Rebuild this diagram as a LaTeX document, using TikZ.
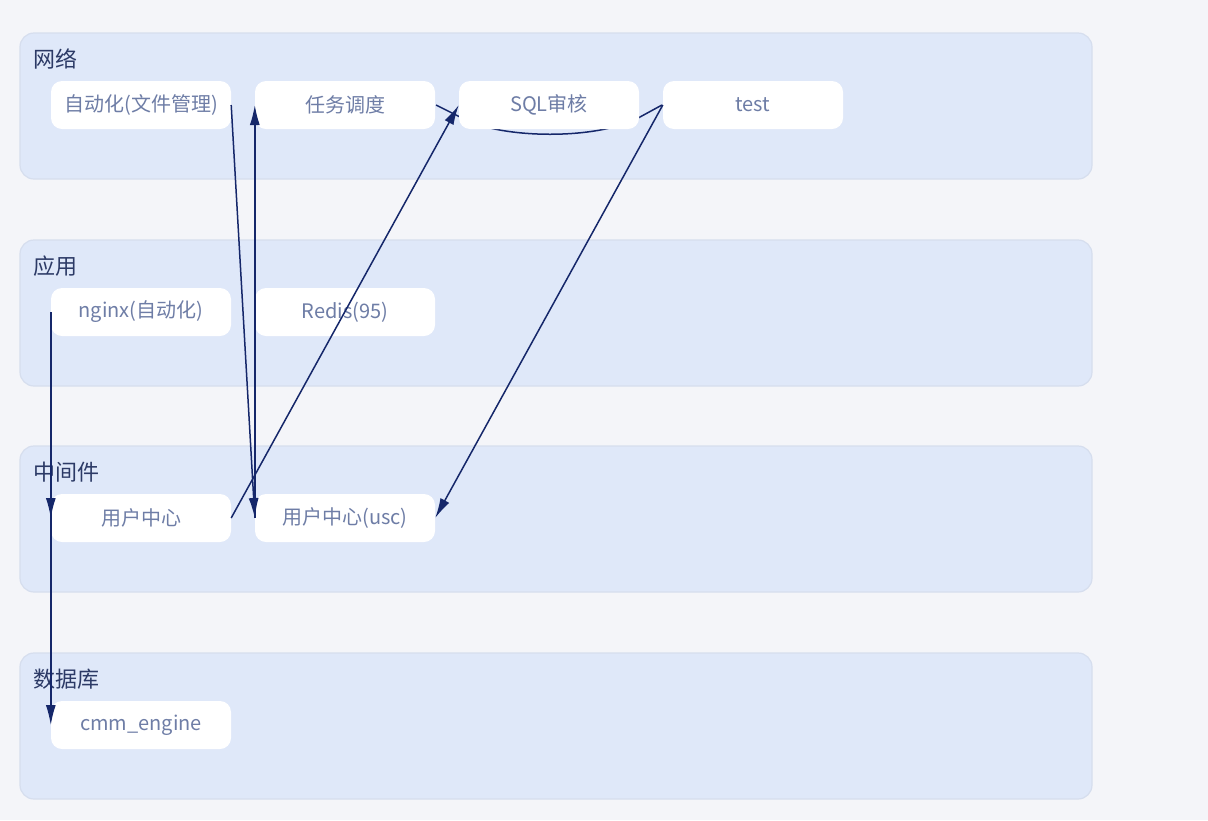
\documentclass[tikz,border=0pt]{standalone}
\usepackage{fontspec}
\newfontfamily\cjk{Noto Sans CJK SC}
\usetikzlibrary{arrows.meta}
\definecolor{bg}{HTML}{F4F5F9}
\definecolor{grp}{HTML}{DFE8F9}
\definecolor{grpb}{HTML}{D6DEEE}
\definecolor{ntext}{HTML}{6E7DA6}
\definecolor{gtext}{HTML}{2C3A66}
\definecolor{edge}{HTML}{15276A}
\begin{document}
\begin{tikzpicture}[x=1pt,y=-1pt,
  grpbox/.style={draw=grpb,fill=grp,rounded corners=14pt,line width=1.2pt},
  glabel/.style={anchor=west,font=\cjk\fontsize{22}{22}\selectfont,text=gtext},
  nbox/.style={fill=white,rounded corners=11pt,minimum width=180pt,minimum height=48pt,font=\cjk\fontsize{20}{20}\selectfont,text=ntext,inner sep=0pt},
  arr/.style={draw=edge,line width=1.5pt,-{Latex[length=20pt,width=10pt]}},
  ln/.style={draw=edge,line width=1.5pt}]
\fill[bg] (0,0) rectangle (1208,820);
\useasboundingbox (0,0) rectangle (1208,820);
\foreach \y/\t in {33/网络,240/应用,446/中间件,653/数据库}{
  \draw[grpbox] (20,\y) rectangle (1092,\y+146);
  \node[glabel] at (30,\y+26) {\t};
}
\coordinate (p1) at (436,105);
\coordinate (p2) at (662,105);
\draw[ln] (p1) -- (460,117) .. controls (500,140) and (600,140) .. (640,117) -- (p2);
\node[nbox] (a1) at (141,105) {自动化(文件管理)};
\node[nbox] (a2) at (345,105) {任务调度};
\node[nbox] (a3) at (549,105) {SQL审核};
\node[nbox] (a4) at (753,105) {test};
\node[nbox] (b1) at (141,312) {nginx(自动化)};
\node[nbox] (b2) at (345,312) {Redis(95)};
\node[nbox] (c1) at (141,518) {用户中心};
\node[nbox] (c2) at (345,518) {用户中心(usc)};
\node[nbox] (d1) at (141,725) {cmm\_engine};
\draw[arr] (a1.east) -- (c2.west);
\draw[arr] (c2.west) -- (a2.west);
\draw[arr] (c1.east) -- (a3.west);
\draw[arr] (a4.west) -- (c2.east);
\draw[arr] (b1.west) -- (c1.west);
\draw[arr] (b1.west) -- (d1.west);
\end{tikzpicture}
\end{document}
